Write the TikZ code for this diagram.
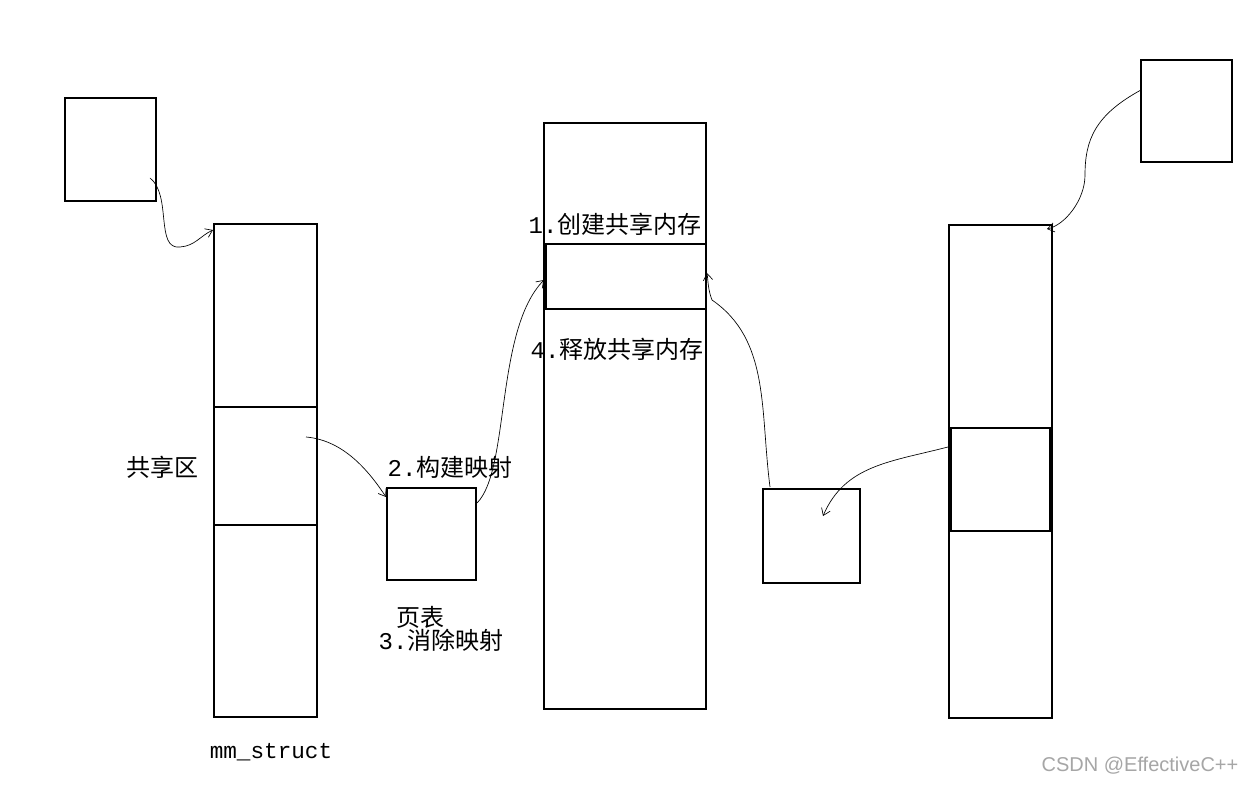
\documentclass[tikz,border=0pt]{standalone}
\usepackage{fontspec}
\newfontfamily\cjk{Noto Sans CJK SC}
\setmonofont{Liberation Mono}
\newfontfamily\csdn{Liberation Sans}
\newfontfamily\dig{Liberation Mono}
\usetikzlibrary{arrows.meta}
\begin{document}
\begin{tikzpicture}[x=0.75pt,y=-0.75pt,
  box/.style={draw,line width=1.8pt},
  lbl/.style={font=\cjk\fontsize{18}{20}\selectfont,inner sep=0pt},
  conn/.style={draw,line width=0.5pt,-{Straight Barb[length=5pt,width=7pt]}}]
\useasboundingbox (0,0) rectangle (1256,787);
\fill[white] (0,0) rectangle (1256,787);
% boxes
\draw[box] (65,98) rectangle (156,201);
\draw[box] (214,224) rectangle (317,717);
\draw[box] (214,407) rectangle (317,525);
\draw[box] (387,488) rectangle (476,580);
\draw[box] (544,123) rectangle (706,709);
\draw[box] (546,244) rectangle (706,309);
\draw[box] (763,489) rectangle (860,583);
\draw[box] (949,225) rectangle (1052,718);
\draw[box] (951,428) rectangle (1050,531);
\draw[box] (1141,60) rectangle (1232,162);
% named anchor points
\coordinate (c1s) at (150,178); \coordinate (c1e) at (213,230);
\coordinate (c2s) at (306,437); \coordinate (c2e) at (386,497);
\coordinate (c3s) at (477,503); \coordinate (c3e) at (544,280);
\coordinate (c4s) at (770,487); \coordinate (c4e) at (707,273);
\coordinate (c5s) at (948,447); \coordinate (c5e) at (823,516);
\coordinate (c6s) at (1141,90); \coordinate (c6e) at (1047,229);
% connectors
\draw[conn] (c1s) .. controls (172,195) and (155,250) .. (180,247) .. controls (195,246) and (200,236) .. (c1e);
\draw[conn] (c2s) .. controls (340,440) and (365,465) .. (c2e);
\draw[conn] (c3s) .. controls (510,470) and (495,330) .. (c3e);
\draw[conn] (c4s) .. controls (760,410) and (770,340) .. (712,300) .. controls (708,290) and (708,280) .. (c4e);
\draw[conn] (c5s) .. controls (890,462) and (845,465) .. (c5e);
\draw[conn] (c6s) .. controls (1095,115) and (1085,140) .. (1085,175) .. controls (1085,200) and (1065,225) .. (c6e);
% labels
\node[lbl] (t1) at (615,224) {{\dig 1.}创建共享内存};
\node[lbl] (t4) at (617,349) {{\dig 4.}释放共享内存};
\node[lbl] (t0) at (162,467) {共享区};
\node[lbl] (t2) at (450,467) {{\dig 2.}构建映射};
\node[lbl] (t5) at (420,617) {页表};
\node[lbl] (t3) at (441,640) {{\dig 3.}消除映射};
\node[inner sep=0,font=\ttfamily\fontsize{17}{18}\selectfont] (t6) at (271,752) {mm\_struct};
\node[inner sep=0,text=black!35,font=\csdn\fontsize{15}{18}\selectfont] (t7) at (1140,766) {CSDN @EffectiveC++};
\end{tikzpicture}
\end{document}
